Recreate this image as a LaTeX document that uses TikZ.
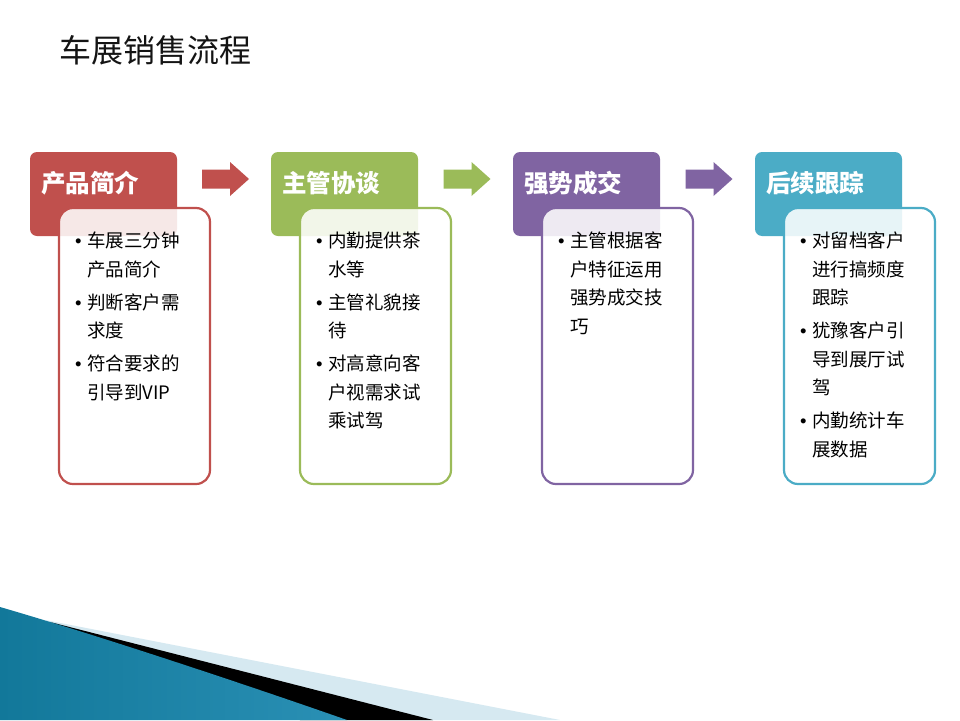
\documentclass[tikz,border=0pt]{standalone}
\usepackage{fontspec}
\setmainfont{Noto Sans CJK SC}
\newfontfamily\latinfont{Liberation Sans}
\definecolor{cRed}{HTML}{C0504D}
\definecolor{cGreen}{HTML}{9BBB59}
\definecolor{cPurple}{HTML}{8064A2}
\definecolor{cTeal}{HTML}{4BACC6}
\definecolor{wDark}{HTML}{12789A}
\definecolor{wMid}{HTML}{4CB5DA}
\definecolor{wRight}{HTML}{2A90B5}
\definecolor{wLight}{HTML}{D6E9F1}
\newcommand\mybul{\makebox[12pt][l]{\latinfont •}}
\newcommand\myind{\hspace*{12pt}}
\begin{document}
\begin{tikzpicture}[x=1pt,y=-1pt,
  hdr/.style={fill=#1, rounded corners=7pt},
  bodybox/.style={draw=#1, line width=2.2pt, fill=white, fill opacity=0.87, rounded corners=14pt},
  hdrtext/.style={text=white, font=\bfseries\fontsize{24.5}{28}\selectfont, anchor=west, inner sep=0pt},
  itemtext/.style={font=\fontsize{18.5}{28.5}\selectfont, align=left, anchor=north west, inner sep=0pt, text=black},
  flowarr/.pic={\fill[pic actions] (-23.5,-9.5) -- (4.5,-9.5) -- (4.5,-17) -- (23.5,0) -- (4.5,17) -- (4.5,9.5) -- (-23.5,9.5) -- cycle;}
]
\useasboundingbox[fill=white] (0,0) rectangle (960,720);

% title
\node[anchor=west, inner sep=0pt, font=\fontsize{32}{36}\selectfont, text=black!92] (title) at (59,50) {车展销售流程};

% bottom-left decoration
\fill[wLight] (45,620) -- (560,720) -- (300,720) -- cycle;
\fill[black] (50,622) -- (433,720) -- (300,720) -- cycle;
\shade[left color=wDark, middle color=wMid, right color=wRight]
  (0,607) .. controls (100,636) and (250,686) .. (347,720) -- (0,720) -- cycle;

% column 1
\path[hdr=cRed] (30,152) rectangle (177,236);
\node[hdrtext] (h1) at (41,183) {产品简介};
\path[bodybox=cRed] (59,208) rectangle (210,484);
\node[itemtext] (t1) at (75,232) {\mybul 车展三分钟\\ \myind 产品简介\\[4.5pt]
 \mybul 判断客户需\\ \myind 求度\\[4.5pt]
 \mybul 符合要求的\\ \myind 引导到VIP};
\coordinate (a1) at (225.5,179);
\pic[fill=cRed] at (a1) {flowarr};

% column 2
\path[hdr=cGreen] (271,152) rectangle (418,236);
\node[hdrtext] (h2) at (282,183) {主管协谈};
\path[bodybox=cGreen] (300,208) rectangle (451,484);
\node[itemtext] (t2) at (316,232) {\mybul 内勤提供茶\\ \myind 水等\\[4.5pt]
 \mybul 主管礼貌接\\ \myind 待\\[4.5pt]
 \mybul 对高意向客\\ \myind 户视需求试\\ \myind 乘试驾};
\coordinate (a2) at (467,179);
\pic[fill=cGreen] at (a2) {flowarr};

% column 3
\path[hdr=cPurple] (513,152) rectangle (660,236);
\node[hdrtext] (h3) at (524,183) {强势成交};
\path[bodybox=cPurple] (542,208) rectangle (693,484);
\node[itemtext] (t3) at (558,232) {\mybul 主管根据客\\ \myind 户特征运用\\ \myind 强势成交技\\ \myind 巧};
\coordinate (a3) at (709,179);
\pic[fill=cPurple] at (a3) {flowarr};

% column 4
\path[hdr=cTeal] (755,152) rectangle (902,236);
\node[hdrtext] (h4) at (766,183) {后续跟踪};
\path[bodybox=cTeal] (784,208) rectangle (935,484);
\node[itemtext] (t4) at (800,232) {\mybul 对留档客户\\ \myind 进行搞频度\\ \myind 跟踪\\[4.5pt]
 \mybul 犹豫客户引\\ \myind 导到展厅试\\ \myind 驾\\[4.5pt]
 \mybul 内勤统计车\\ \myind 展数据};
\end{tikzpicture}
\end{document}
